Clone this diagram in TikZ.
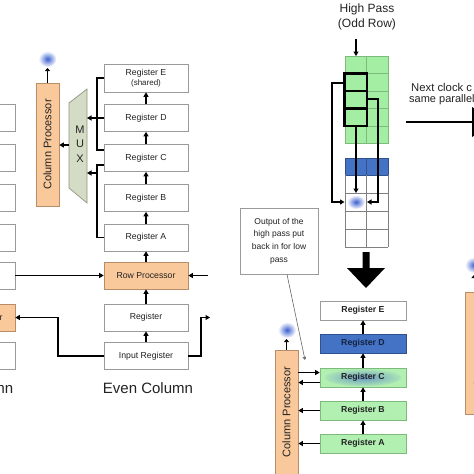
\documentclass[tikz,border=0pt]{standalone}
\usepackage{fontspec}
\setmainfont{Liberation Sans}
\usetikzlibrary{arrows.meta,calc}
\definecolor{peach}{HTML}{F9C99B}
\definecolor{peachdraw}{HTML}{B98D68}
\definecolor{regreen}{HTML}{B2F0B2}
\definecolor{gridgreen}{HTML}{A3EEA3}
\definecolor{greendraw}{HTML}{7DBB7D}
\definecolor{regblue}{HTML}{4472C4}
\definecolor{bluedraw}{HTML}{2F528F}
\definecolor{navytxt}{HTML}{14233F}
\definecolor{muxfill}{HTML}{D5DCC5}
\definecolor{muxdraw}{HTML}{8E957F}
\definecolor{boxdraw}{HTML}{9A9A9A}
\definecolor{blob}{HTML}{3A5FD0}
\definecolor{txt}{HTML}{222222}
\begin{document}
\begin{tikzpicture}[x=1pt,y=-1pt,
  reg/.style={draw=boxdraw, line width=0.7pt, fill=white, minimum width=84pt, minimum height=27pt, inner sep=0pt, font=\fontsize{8.7}{10.5}\selectfont, text=txt, align=center},
  rreg/.style={draw=boxdraw, line width=0.7pt, fill=white, minimum width=86pt, minimum height=19pt, inner sep=0pt, font=\bfseries\fontsize{8.7}{10}\selectfont, text=txt},
  gbox/.style={fill=regreen, draw=greendraw},
  proc/.style={draw=peachdraw, line width=0.7pt, fill=peach},
  vtext/.style={rotate=90, inner sep=0pt, font=\fontsize{11}{13}\selectfont, text=txt},
  arr/.style={line width=1.2pt, -{Triangle[length=4.5pt,width=5pt]}},
  ln/.style={line width=1.2pt},
  glow/.style={inner color=blob, outer color=white},
  big/.style={inner sep=0pt, text=txt}
]
\useasboundingbox (0,0) rectangle (474,474);
\clip (0,0) rectangle (474,474);

% ---------------- odd column (cut off at left) ----------------
\foreach \y/\n in {117.5/oD,157.5/oC,197.5/oB,237.5/oA,275.5/oR,356/oIn}
  \node[reg] (\n) at (-27,\y) {};
\node[reg, proc] (oRP) at (-27,317.5) {Row Processor};
\node[big, anchor=east, font=\fontsize{15}{18}\selectfont] (oLabel) at (13.5,388) {Column};

% ---------------- even column ----------------
\node[reg, minimum height=28pt] (eE) at (146,78) {Register E\\{\fontsize{8}{10}\selectfont (shared)}};
\node[reg] (eD) at (146,118) {Register D};
\node[reg] (eC) at (146,158) {Register C};
\node[reg] (eB) at (146,198) {Register B};
\node[reg] (eA) at (146,237.5) {Register A};
\node[reg, proc] (eRow) at (146,275.5) {Row Processor};
\node[reg] (eReg) at (146,317.5) {Register};
\node[reg] (eIn) at (146,356) {Input Register};
\node[big, font=\fontsize{15}{18}\selectfont] (eLabel) at (148,388) {Even Column};

\foreach \a/\b in {eIn/eReg, eReg/eRow, eRow/eA, eA/eB, eB/eC, eC/eD, eD/eE}
  \draw[arr] (\a) -- (\b);

% column processor + MUX
\node[proc, minimum width=23pt, minimum height=123pt] (cpL) at (47.5,144.5) {};
\node[vtext] (cpLt) at (cpL.center) {Column Processor};
\shade[glow] (47.5,59) ellipse [x radius=9pt, y radius=8pt];
\coordinate (bL) at (47.5,68);
\draw[line width=1pt, -{Triangle[length=3pt,width=5pt]}] (cpL.north) -- (bL);

\coordinate (m1) at (69,103);
\coordinate (m2) at (87,89);
\coordinate (m3) at (87,203);
\coordinate (m4) at (69,188);
\draw[draw=muxdraw, fill=muxfill, line width=0.7pt] (m1) -- (m2) -- (m3) -- (m4) -- cycle;
\node[big, align=center, font=\fontsize{11}{14.5}\selectfont] (muxt) at (80,144) {M\\U\\X};
\coordinate (muxin1) at (87,118);
\coordinate (muxin2) at (87,173);
\coordinate (muxout) at (69,145);

\draw[arr] (eD.west) -- (muxin1);
\draw[ln] (eE.west) -- (97,78) -- (97,150) -- ([yshift=8pt]eC.west);
\draw[ln] ([yshift=-7pt]eC.west) -- (97,165) -- (97,237.5) -- (eA.west);
\draw[arr] (97,173) -- (muxin2);
\draw[arr] (muxout) -- (muxout -| cpL.east);

% row processor links
\draw[arr] (oR.east) -- (eRow.west);
\coordinate (rin) at (208,275.5);
\draw[arr] (rin) -- (eRow.east);
\draw[arr] (eIn.west) -- (58,356) -- (58,317.5) -- (oRP.east);
\coordinate (rout) at (210,317.5);
\draw[arr] (eIn.east) -- (201,356) -- (201,317.5) -- (rout);

% ---------------- high pass grid ----------------
\node[big, align=center, font=\fontsize{12}{15}\selectfont] (hp) at (367,16.5) {High Pass\\(Odd Row)};
\fill[gridgreen] (345,56) rectangle (388,143.5);
\foreach \y in {56,73.5,91,108.5,126,143.5} \draw[greendraw, line width=0.6pt] (345,\y) -- (388,\y);
\foreach \x in {345,366.5,388} \draw[greendraw, line width=0.6pt] (\x,56) -- (\x,143.5);
\fill[regblue] (345,158) rectangle (388,175);
\draw[bluedraw, line width=0.6pt] (345,158) rectangle (388,175) (366.5,158) -- (366.5,175);
\foreach \y in {193,211,229,247} \draw[gray, line width=0.6pt] (345,\y) -- (388,\y);
\foreach \x in {345,366.5,388} \draw[gray, line width=0.6pt] (\x,175) -- (\x,247);
\shade[glow] (356,202) ellipse [x radius=9pt, y radius=7pt];
\draw[line width=2.5pt] (344.5,73.5) rectangle (367,126);
\draw[line width=2.5pt] (344.5,91) -- (367,91) (344.5,108.5) -- (367,108.5);

\coordinate (hpIn) at (356,39);
\draw[arr] (hpIn) -- (356,56);
\draw[arr] (356,126) -- (356,193);
\draw[arr] (344.5,83) -- (332,83) -- (332,202) -- (344.5,202);
\draw[arr] (367,99) -- (378,99) -- (378,202) -- (367,202);

% big arrow
\fill (362.5,252) -- (369.5,252) -- (369.5,268) -- (385,268) -- (366,288) -- (347,268) -- (362.5,268) -- cycle;

% ---------------- right register stack ----------------
\node[rreg] (rE) at (363,310.5) {Register E};
\node[rreg, fill=regblue, draw=bluedraw, text=navytxt] (rD) at (363,343.5) {Register D};
\node[rreg, gbox, path picture={\shade[inner color=blob!60!regreen, outer color=regreen] (path picture bounding box.center) ellipse [x radius=38pt, y radius=9pt];}] (rC) at (363,377.5) {Register C};
\node[rreg, gbox] (rB) at (363,410.5) {Register B};
\node[rreg, gbox] (rA) at (363,443.5) {Register A};
\foreach \a/\b in {rA/rB, rB/rC, rC/rD, rD/rE}
  \draw[arr] (\a) -- (\b);

\node[proc, minimum width=23pt, minimum height=130pt] (cpR) at (286.5,415) {};
\node[vtext] (cpRt) at (286.5,412) {Column Processor};
\shade[glow] (287,330) ellipse [x radius=9pt, y radius=8pt];
\coordinate (bR) at (286.5,339);
\draw[line width=1pt, -{Triangle[length=3pt,width=5pt]}] (cpR.north) -- (bR);

\coordinate (c1) at ($(rC.west)+(0,-5)$);
\coordinate (c2) at ($(rC.west)+(0,5)$);
\draw[arr] (c1 -| cpR.east) -- (c1);
\draw[arr] (c2) -- (c2 -| cpR.east);
\draw[arr] (rB.west) -- (rB.west -| cpR.east);
\draw[arr] (rA.west) -- (rA.west -| cpR.east);

% callout
\node[draw=boxdraw, line width=0.7pt, fill=white, minimum width=78pt, minimum height=66pt, align=center, inner sep=0pt, text=txt, font=\fontsize{8.5}{12.7}\selectfont] (call) at (279,241) {Output of the\\high pass put\\back in for low\\pass};
\coordinate (ptr) at (305,360);
\draw[gray!80!black, line width=0.6pt, -{Triangle[length=3pt,width=3.5pt]}] ([xshift=8pt]call.south) -- (ptr);

% ---------------- right edge (cut off) ----------------
\node[big, anchor=west, font=\fontsize{11.3}{12}\selectfont] (nc1) at (411,87) {Next clock c};
\node[big, anchor=west, font=\fontsize{11}{12}\selectfont] (nc2) at (409,99.5) {same parallel};
\coordinate (nl) at (406,122);
\coordinate (nh) at (472,122);
\draw[ln] (nl) -- (nh);
\fill (472,107) -- (496,122) -- (472,137) -- cycle;

\node[proc, minimum width=23pt, minimum height=122pt] (cpX) at (476.5,353) {};
\node[vtext] (cpXt) at (478,353) {Column Processor};
\shade[glow] (474,265) ellipse [x radius=9pt, y radius=8pt];
\coordinate (bX) at (474,275);
\draw[line width=1pt, -{Triangle[length=3pt,width=5pt]}] (474,292) -- (bX);
\end{tikzpicture}
\end{document}
